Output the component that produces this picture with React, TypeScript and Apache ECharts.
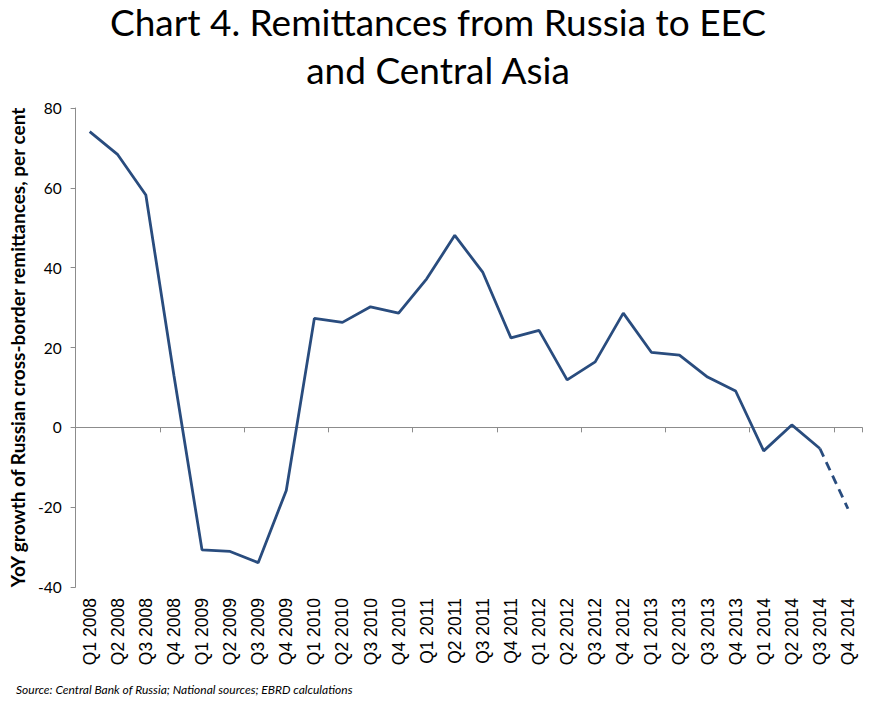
import React, { useEffect, useRef } from "react";
import * as echarts from "echarts";

const categories = [
  "Q1 2008", "Q2 2008", "Q3 2008", "Q4 2008",
  "Q1 2009", "Q2 2009", "Q3 2009", "Q4 2009",
  "Q1 2010", "Q2 2010", "Q3 2010", "Q4 2010",
  "Q1 2011", "Q2 2011", "Q3 2011", "Q4 2011",
  "Q1 2012", "Q2 2012", "Q3 2012", "Q4 2012",
  "Q1 2013", "Q2 2013", "Q3 2013", "Q4 2013",
  "Q1 2014", "Q2 2014", "Q3 2014", "Q4 2014",
];

const actualValues = [
  74.1, 68.3, 58.2, 13.0,
  -30.7, -31.1, -33.9, -15.8,
  27.3, 26.3, 30.2, 28.6,
  37.2, 48.1, 38.8, 22.4,
  24.3, 11.9, 16.4, 28.6,
  18.8, 18.1, 12.6, 9.1,
  -5.9, 0.6, -5.3, null,
];

const estimateValues = [
  null, null, null, null,
  null, null, null, null,
  null, null, null, null,
  null, null, null, null,
  null, null, null, null,
  null, null, null, null,
  null, null, -5.3, -20.4,
];

const yTicks = { min: -40, max: 80, interval: 20 };

const titleText = "Chart 4. Remittances from Russia to EEC\nand Central Asia";
const yAxisName = "YoY growth of Russian cross-border remittances, per cent";
const sourceText = "Source: Central Bank of Russia; National sources; EBRD calculations";

const LINE_COLOR = "#294C7E";
const AXIS_COLOR = "#8C8C8C";

export default function App() {
  const ref = useRef<HTMLDivElement>(null);

  useEffect(() => {
    document.body.style.margin = "0";
    if (!ref.current) return;
    const chart = echarts.init(ref.current, null, { renderer: "svg" });
    chart.setOption({
      animation: false,
      backgroundColor: "#ffffff",
      title: {
        text: titleText,
        left: "center",
        top: -3,
        padding: 0,
        textStyle: {
          fontFamily: "Lato",
          fontWeight: "normal",
          fontSize: 37,
          lineHeight: 48,
          color: "#000",
        },
      },
      grid: { left: 65, right: 14, top: 108, bottom: 121, containLabel: false },
      xAxis: [
        {
          type: "category",
          data: categories,
          boundaryGap: true,
          position: "bottom",
          axisLine: { onZero: true, lineStyle: { color: AXIS_COLOR, width: 1 } },
          axisTick: { show: true, length: 5, lineStyle: { color: AXIS_COLOR } },
          axisLabel: { show: false },
          splitLine: { show: false },
        },
        {
          type: "category",
          data: categories,
          boundaryGap: true,
          position: "bottom",
          axisLine: { show: false, onZero: false },
          axisTick: { show: false },
          axisLabel: {
            show: true,
            rotate: 90,
            margin: 11,
            interval: 0,
            fontFamily: "Liberation Sans",
            fontSize: 17.5,
            color: "#000",
          },
          splitLine: { show: false },
        },
      ],
      yAxis: {
        type: "value",
        min: yTicks.min,
        max: yTicks.max,
        interval: yTicks.interval,
        name: yAxisName,
        nameLocation: "middle",
        nameGap: 38,
        nameTextStyle: {
          fontFamily: "Lato",
          fontWeight: "bold",
          fontSize: 19,
          color: "#000",
        },
        axisLine: { show: true, lineStyle: { color: AXIS_COLOR, width: 1 } },
        axisTick: { show: true, length: 5, lineStyle: { color: AXIS_COLOR } },
        axisLabel: {
          fontFamily: "Lato",
          fontSize: 15.5,
          color: "#000",
          margin: 14,
        },
        splitLine: { show: false },
      },
      series: [
        {
          type: "line",
          data: actualValues,
          xAxisIndex: 0,
          showSymbol: false,
          symbol: "none",
          lineStyle: { color: LINE_COLOR, width: 2.8 },
          connectNulls: false,
        },
        {
          type: "line",
          data: estimateValues,
          xAxisIndex: 0,
          showSymbol: false,
          symbol: "none",
          lineStyle: { color: LINE_COLOR, width: 2.8, type: [9, 6] },
          connectNulls: false,
        },
      ],
      graphic: [
        {
          type: "text",
          left: 16,
          top: 683,
          style: {
            text: sourceText,
            fontFamily: "Lato",
            fontStyle: "italic",
            fontSize: 12,
            fill: "#000",
          },
        },
      ],
    });
    return () => chart.dispose();
  }, []);

  return <div ref={ref} style={{ width: 876, height: 708 }} />;
}
